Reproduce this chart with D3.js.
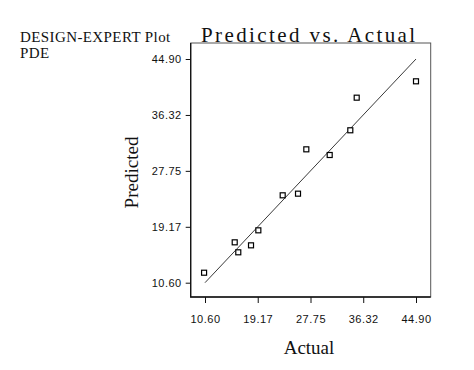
<!DOCTYPE html>
<html>
<head>
<meta charset="utf-8">
<script src="https://cdn.jsdelivr.net/npm/d3@7"></script>
<style>
  body { margin: 0; background: #fff; }
  .axis text { font-family: "Liberation Sans", Arial, sans-serif; font-size: 11px; letter-spacing: 0.5px; fill: #111; }
  .axis line { stroke: #111; }
  .serif { font-family: "Liberation Serif", "Times New Roman", serif; fill: #111; }
</style>
</head>
<body>
<div id="chart"></div>
<script>
// values
const actual    = [10.45, 15.43, 16.01, 18.08, 19.27, 23.23, 25.72, 27.07, 30.87, 34.22, 35.26, 44.90];
const predicted = [12.13, 16.79, 15.26, 16.33, 18.63, 24.00, 24.25, 31.05, 30.18, 33.97, 38.97, 41.48];
const tickValues = [10.60, 19.17, 27.75, 36.32, 44.90];
const domain = [10.60, 44.90];

const width = 474, height = 370;
const box = { left: 190.7, right: 430.7, top: 43, bottom: 297 };

const svg = d3.select('#chart').append('svg')
  .attr('width', width)
  .attr('height', height);

const x = d3.scaleLinear().domain(domain).range([205, 416]);
const y = d3.scaleLinear().domain(domain).range([282.7, 59]);

// frame
svg.append('rect')
  .attr('x', box.left)
  .attr('y', box.top)
  .attr('width', box.right - box.left)
  .attr('height', box.bottom - box.top)
  .attr('fill', 'none')
  .attr('stroke', '#555')
  .attr('stroke-width', 1);
svg.append('path')
  .attr('d', `M${box.left},${box.top}V${box.bottom}H${box.right}`)
  .attr('fill', 'none')
  .attr('stroke', '#111')
  .attr('stroke-width', 1.3);

// axes
const fmt = d3.format('.2f');
svg.append('g')
  .attr('class', 'axis')
  .attr('transform', `translate(0,${box.bottom})`)
  .call(d3.axisBottom(x).tickValues(tickValues).tickFormat(fmt).tickSizeInner(6).tickSizeOuter(0).tickPadding(12))
  .call(g => g.select('.domain').remove());

svg.append('g')
  .attr('class', 'axis')
  .attr('transform', `translate(${box.left},0)`)
  .call(d3.axisLeft(y).tickValues(tickValues).tickFormat(fmt).tickSizeInner(5).tickSizeOuter(0).tickPadding(4))
  .call(g => g.select('.domain').remove());

// 1:1 line
svg.append('line')
  .attr('x1', x(domain[0])).attr('y1', y(domain[0]))
  .attr('x2', x(domain[1])).attr('y2', y(domain[1]))
  .attr('stroke', '#222')
  .attr('stroke-width', 0.9);

// points
const pts = actual.map((a, i) => ({ a, p: predicted[i] }));
svg.append('g').selectAll('rect')
  .data(pts)
  .join('rect')
  .attr('x', d => x(d.a) - 2.5)
  .attr('y', d => y(d.p) - 2.5)
  .attr('width', 5)
  .attr('height', 5)
  .attr('fill', '#fff')
  .attr('stroke', '#000')
  .attr('stroke-width', 1.2);

// texts
svg.append('text')
  .attr('class', 'serif')
  .attr('x', 201).attr('y', 41.5)
  .style('font-size', '21px')
  .style('letter-spacing', '2.4px')
  .text('Predicted vs. Actual');

svg.append('text')
  .attr('class', 'serif')
  .attr('x', 20).attr('y', 42)
  .style('font-size', '15px')
  .style('letter-spacing', '0.4px')
  .text('DESIGN-EXPERT Plot');

svg.append('text')
  .attr('class', 'serif')
  .attr('x', 20).attr('y', 58)
  .style('font-size', '15px')
  .style('letter-spacing', '0.4px')
  .text('PDE');

svg.append('text')
  .attr('class', 'serif')
  .attr('text-anchor', 'middle')
  .attr('transform', 'translate(138,172.5) rotate(-90)')
  .style('font-size', '19px')
  .text('Predicted');

svg.append('text')
  .attr('class', 'serif')
  .attr('text-anchor', 'middle')
  .attr('x', 309).attr('y', 354)
  .style('font-size', '19px')
  .text('Actual');
</script>
</body>
</html>
